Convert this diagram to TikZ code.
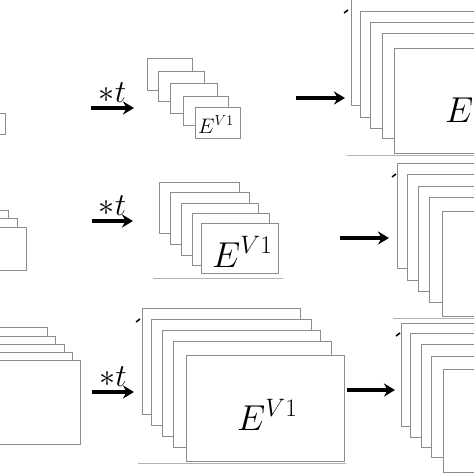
\documentclass[tikz,border=0pt]{standalone}
\usepackage{fix-cm}
\usepackage{amsmath}
\usetikzlibrary{arrows.meta}
\tikzset{
    stack-frame/.style = {draw=black!45, fill=white, line width=0.8pt, rectangle, inner sep=0pt, anchor=north west},
    stack-rule/.style = {draw=black!30, line width=0.8pt},
    shift-arrow/.style = {-{Stealth[length=11pt, width=13pt]}, line width=3.2pt},
    shift-label/.style = {font=\fontsize{32}{36}\selectfont, inner sep=0pt},
    tick-mark/.style = {line width=1.5pt},
    big-label/.style = {font=\fontsize{36}{40}\selectfont, inner sep=0pt, anchor=base west},
    small-label/.style = {font=\fontsize{21}{25}\selectfont, inner sep=0pt, anchor=base west},
}
\newcommand{\framestack}[2]{%
    \foreach \l/\t/\r/\b [count=\i] in {#2}
        \node[stack-frame, minimum width={(\r-\l)*1pt}, minimum height={(\b-\t)*1pt}] (#1-\i) at (\l,\t) {};
}

\begin{document}
\begin{tikzpicture}[x=1pt, y=-1pt]
\useasboundingbox (0,0) rectangle (474,474);
\clip (0,0) rectangle (474,474);

\framestack{l1}{-40/113/5/134}
\framestack{l2}{-40/210/8/250, -40/218/17/260, -40/227/26/270}
\framestack{l3}{-40/327/47/420, -40/336/55/428, -40/344/64/436, -40/352/72/440, -40/360/80/444}

\framestack{m1}{147/58/192/90, 158/71/204/101, 170/83/217/113, 183/96/228/125, 195/107/240/138}
\node[small-label] (m1-text) at (198,133) {$E^{V1}$};

\framestack{m2}{159/182/239/233, 170/192/249/244, 181/203/258/255, 192/213/269/265, 201/223/278/273}
\node[big-label] (m2-text) at (212,267) {$E^{V1}$};
\draw[stack-rule] (153,278) -- (283,278);

\framestack{m3}{142/308/300/414, 151/319/311/425, 162/330/320/436, 173/341/331/447, 186/355/344/461}
\node[big-label] (m3-text) at (237,430) {$E^{V1}$};
\draw[stack-rule] (138,463) -- (346,463);
\draw[tick-mark] (136,322) -- (140,319);

\framestack{r1}{351/-2/520/105, 360/11/520/117, 370/22/520/128, 382/33/520/138, 394/48/520/153}
\node[big-label] (r1-text) at (445,122) {$E^{V1}$};
\draw[stack-rule] (347,155) -- (474,155);
\draw[tick-mark] (344,13) -- (348,10);

\framestack{r2}{397/163/520/268, 407/174/520/280, 418/186/520/291, 429/197/520/302, 442/211/520/316}
\draw[stack-rule] (393,318) -- (474,318);
\draw[tick-mark] (392,177) -- (396,174);

\framestack{r3}{401/323/520/426, 410/333/520/437, 421/344/520/447, 431/356/520/457, 443/369/520/472}
\draw[tick-mark] (396,336) -- (400,333);

\coordinate (a1-from) at (91,108);
\coordinate (a1-to) at (134,108);
\coordinate (a2-from) at (92,221);
\coordinate (a2-to) at (133,221);
\coordinate (a3-from) at (92,392);
\coordinate (a3-to) at (134,392);
\coordinate (b1-from) at (296,98);
\coordinate (b1-to) at (345,98);
\coordinate (b2-from) at (340,238);
\coordinate (b2-to) at (389,238);
\coordinate (b3-from) at (347,390);
\coordinate (b3-to) at (395,390);

\draw[shift-arrow] (a1-from) -- (a1-to) node[midway, above=4pt, shift-label] (a1-label) {$*t$};
\draw[shift-arrow] (a2-from) -- (a2-to) node[midway, above=4pt, shift-label] (a2-label) {$*t$};
\draw[shift-arrow] (a3-from) -- (a3-to) node[midway, above=4pt, shift-label] (a3-label) {$*t$};
\draw[shift-arrow] (b1-from) -- (b1-to);
\draw[shift-arrow] (b2-from) -- (b2-to);
\draw[shift-arrow] (b3-from) -- (b3-to);
\end{tikzpicture}
\end{document}
